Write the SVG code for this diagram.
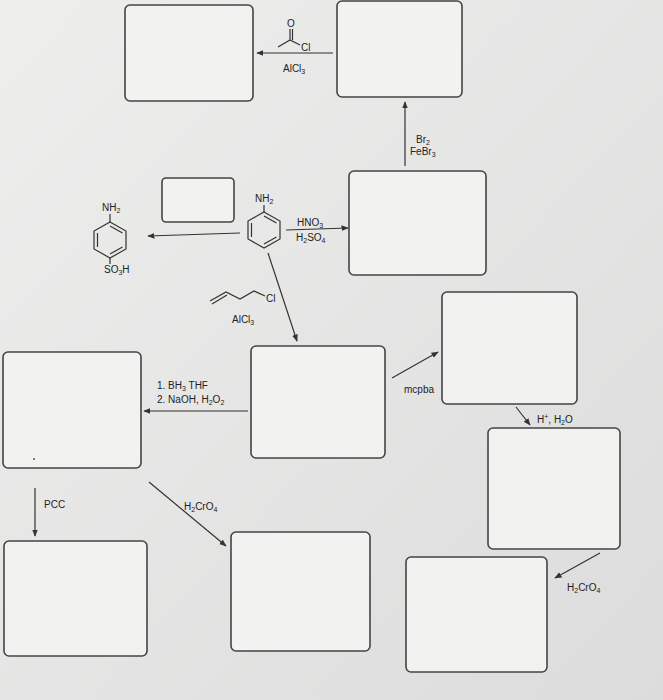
<svg xmlns="http://www.w3.org/2000/svg" width="663" height="700" viewBox="0 0 663 700">
<defs>
<linearGradient id="bg" x1="0" y1="0" x2="1" y2="1"><stop offset="0" stop-color="#eeeeed"/><stop offset="1" stop-color="#dcdcdc"/></linearGradient>
<marker id="ah" viewBox="0 0 10 10" refX="9" refY="5" markerWidth="6" markerHeight="6" orient="auto"><path d="M0,1 L10,5 L0,9 z" fill="#333"/></marker>
<style>
.box{fill:#f2f2f1;stroke:#444;stroke-width:1.6}
.ln{stroke:#333;stroke-width:1.2;fill:none}
.ar{stroke:#333;stroke-width:1.2;fill:none;marker-end:url(#ah)}
text{font-family:"Liberation Sans",Arial,sans-serif;font-size:10px;fill:#222}
</style>
</defs>
<rect width="663" height="700" fill="url(#bg)"/>
<g id="nodes">
<g id="box1"><rect class="box" x="125" y="5" width="128" height="96" rx="5"/></g>
<g id="box2"><rect class="box" x="337" y="1" width="125" height="96" rx="5"/></g>
<g id="box3"><rect class="box" x="162" y="178" width="72" height="44" rx="4"/></g>
<g id="box4"><rect class="box" x="349" y="171" width="137" height="104" rx="5"/></g>
<g id="box5"><rect class="box" x="442" y="292" width="135" height="112" rx="5"/></g>
<g id="box6"><rect class="box" x="251" y="346" width="134" height="112" rx="5"/></g>
<g id="box7"><rect class="box" x="3" y="352" width="138" height="116" rx="5"/></g>
<g id="box8"><rect class="box" x="488" y="428" width="132" height="121" rx="5"/></g>
<g id="box9"><rect class="box" x="4" y="541" width="143" height="115" rx="5"/></g>
<g id="box10"><rect class="box" x="231" y="532" width="139" height="119" rx="5"/></g>
<g id="box11"><rect class="box" x="406" y="557" width="141" height="115" rx="5"/></g>
<g id="aniline">
<polygon class="ln" points="264,212 280,221 280,239 264,248 248,239 248,221"/>
<path class="ln" d="M264,216 L276.5,223 M276.5,237 L264,244 M251.5,237 L251.5,223 M264,212 L264,205"/>
<text x="255" y="202">NH<tspan font-size="7" dy="2">2</tspan></text>
</g>
<g id="sulfanilic">
<polygon class="ln" points="110,222 126,231 126,249 110,258 94,249 94,231"/>
<path class="ln" d="M110,226 L122.5,233 M122.5,247 L110,254 M97.5,247 L97.5,233 M110,222 L110,214 M110,258 L110,264"/>
<text x="102" y="211">NH<tspan font-size="7" dy="2">2</tspan></text>
<text x="104" y="273">SO<tspan font-size="7" dy="2">3</tspan><tspan dy="-2">H</tspan></text>
</g>
</g>
<g id="connectors">
<line class="ar" x1="333" y1="53" x2="257" y2="53"/>
<path class="ln" d="M278,47 L290,40 L300,45 M290,40 L290,29 M292.5,40 L292.5,29"/>
<text x="287" y="27" font-size="9">O</text>
<text x="301" y="51" font-size="9">Cl</text>
<text x="283" y="72">AlCl<tspan font-size="7" dy="2">3</tspan></text>
<line class="ar" x1="405" y1="166" x2="405" y2="102"/>
<text x="416" y="143">Br<tspan font-size="7" dy="2">2</tspan></text>
<text x="410" y="155">FeBr<tspan font-size="7" dy="2">3</tspan></text>
<line class="ar" x1="240" y1="233" x2="148" y2="236"/>
<line class="ar" x1="286" y1="230" x2="348" y2="228"/>
<text x="297" y="226">HNO<tspan font-size="7" dy="2">3</tspan></text>
<text x="296" y="241">H<tspan font-size="7" dy="2">2</tspan><tspan dy="-2">SO</tspan><tspan font-size="7" dy="2">4</tspan></text>
<line class="ar" x1="268" y1="253" x2="297" y2="341"/>
<path class="ln" d="M210,301 L226,292 L240,299 L254,291 L265,296 M212,304 L227,295"/>
<text x="266" y="302" font-size="9">Cl</text>
<text x="232" y="323">AlCl<tspan font-size="7" dy="2">3</tspan></text>
<line class="ar" x1="392" y1="378" x2="438" y2="352"/>
<text x="404" y="393" font-size="9">mcpba</text>
<line class="ar" x1="516" y1="407" x2="530" y2="425"/>
<text x="537" y="423">H<tspan font-size="7" dy="-4">+</tspan><tspan dy="4">, H</tspan><tspan font-size="7" dy="2">2</tspan><tspan dy="-2">O</tspan></text>
<line class="ar" x1="248" y1="411" x2="144" y2="411"/>
<text x="157" y="389">1. BH<tspan font-size="7" dy="2">3</tspan><tspan dy="-2"> THF</tspan></text>
<text x="157" y="403">2. NaOH, H<tspan font-size="7" dy="2">2</tspan><tspan dy="-2">O</tspan><tspan font-size="7" dy="2">2</tspan></text>
<line class="ar" x1="35" y1="488" x2="35" y2="536"/>
<text x="44" y="508">PCC</text>
<line class="ar" x1="149" y1="482" x2="226" y2="546"/>
<text x="184" y="510">H<tspan font-size="7" dy="2">2</tspan><tspan dy="-2">CrO</tspan><tspan font-size="7" dy="2">4</tspan></text>
<line class="ar" x1="600" y1="553" x2="555" y2="578"/>
<text x="567" y="591">H<tspan font-size="7" dy="2">2</tspan><tspan dy="-2">CrO</tspan><tspan font-size="7" dy="2">4</tspan></text>
</g>
<circle cx="34" cy="459" r="1" fill="#555"/>
</svg>
